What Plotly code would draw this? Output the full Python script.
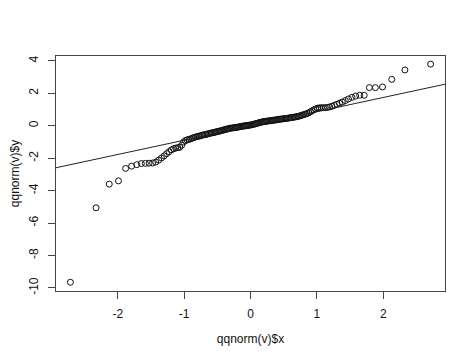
import plotly.graph_objects as go

# Theoretical quantiles (n = 150)
theoretical_left = [
    -2.713, -2.326, -2.128, -1.989, -1.881, -1.791, -1.713, -1.645, -1.584, -1.528,
    -1.476, -1.428, -1.383, -1.341, -1.301, -1.263, -1.227, -1.192, -1.159, -1.126,
    -1.095, -1.065, -1.036, -1.008, -0.980, -0.954, -0.928, -0.903, -0.878, -0.854,
    -0.830, -0.806, -0.783, -0.761, -0.739, -0.717, -0.696, -0.674, -0.654, -0.633,
    -0.613, -0.593, -0.573, -0.553, -0.534, -0.515, -0.496, -0.477, -0.458, -0.440,
    -0.421, -0.403, -0.385, -0.367, -0.349, -0.332, -0.314, -0.297, -0.279, -0.262,
    -0.245, -0.228, -0.210, -0.193, -0.176, -0.159, -0.143, -0.126, -0.109, -0.092,
    -0.075, -0.059, -0.042, -0.025, -0.008,
]
theoretical_right = [
    0.008, 0.025, 0.042, 0.059, 0.075, 0.092, 0.109, 0.126, 0.143, 0.159,
    0.176, 0.193, 0.210, 0.228, 0.245, 0.262, 0.279, 0.297, 0.314, 0.332,
    0.349, 0.367, 0.385, 0.403, 0.421, 0.440, 0.458, 0.477, 0.496, 0.515,
    0.534, 0.553, 0.573, 0.593, 0.613, 0.633, 0.654, 0.674, 0.696, 0.717,
    0.739, 0.761, 0.783, 0.806, 0.830, 0.854, 0.878, 0.903, 0.928, 0.954,
    0.980, 1.008, 1.036, 1.065, 1.095, 1.126, 1.159, 1.192, 1.227, 1.263,
    1.301, 1.341, 1.383, 1.428, 1.476, 1.528, 1.584, 1.645, 1.713, 1.791,
    1.881, 1.989, 2.128, 2.326, 2.713,
]

# Sample quantiles
sample_left = [
    -9.65, -5.06, -3.60, -3.40, -2.63, -2.49, -2.40, -2.33, -2.32, -2.31,
    -2.30, -2.24, -2.12, -1.99, -1.86, -1.72, -1.60, -1.49, -1.42, -1.38,
    -1.35, -1.33, -1.20, -1.00, -0.91, -0.87, -0.84, -0.81, -0.77, -0.73,
    -0.70, -0.67, -0.65, -0.63, -0.60, -0.57, -0.55, -0.54, -0.52, -0.49,
    -0.47, -0.45, -0.43, -0.42, -0.40, -0.37, -0.36, -0.34, -0.32, -0.30,
    -0.28, -0.26, -0.24, -0.22, -0.20, -0.18, -0.16, -0.15, -0.14, -0.13,
    -0.12, -0.11, -0.10, -0.09, -0.07, -0.06, -0.05, -0.03, -0.02, -0.01,
    0.00, 0.01, 0.02, 0.03, 0.04,
]
sample_right = [
    0.05, 0.07, 0.09, 0.10, 0.12, 0.14, 0.16, 0.18, 0.20, 0.22,
    0.23, 0.25, 0.26, 0.27, 0.28, 0.29, 0.30, 0.31, 0.32, 0.33,
    0.34, 0.35, 0.36, 0.37, 0.39, 0.40, 0.41, 0.42, 0.43, 0.44,
    0.45, 0.46, 0.47, 0.49, 0.50, 0.51, 0.53, 0.54, 0.56, 0.58,
    0.60, 0.63, 0.66, 0.69, 0.72, 0.75, 0.80, 0.86, 0.92, 0.98,
    1.04, 1.08, 1.10, 1.11, 1.11, 1.12, 1.13, 1.16, 1.20, 1.26,
    1.32, 1.39, 1.46, 1.55, 1.65, 1.75, 1.83, 1.88, 1.88, 2.35,
    2.35, 2.39, 2.86, 3.44, 3.80,
]

# Reference line (qqline) parameters
qq_intercept = -0.015
qq_slope = 0.879

x_tick_vals = [-2, -1, 0, 1, 2]
x_tick_text = ["-2", "-1", "0", "1", "2"]
y_tick_vals = [-10, -8, -6, -4, -2, 0, 2, 4]
y_tick_text = ["-10", "-8", "-6", "-4", "-2", "0", "2", "4"]

x_range = [-2.93, 2.93]
y_range = [-10.19, 4.30]

xs = theoretical_left + theoretical_right
ys = sample_left + sample_right

line_x = [-4, 4]
line_y = [qq_intercept + qq_slope * v for v in line_x]

font = "Liberation Sans, Arial, sans-serif"

fig = go.Figure()
fig.add_trace(go.Scatter(
    x=xs, y=ys, mode="markers",
    marker=dict(symbol="circle-open", size=6, color="#111111", line=dict(width=1, color="#111111")),
    showlegend=False, hoverinfo="x+y",
))
fig.add_trace(go.Scatter(
    x=line_x, y=line_y, mode="lines",
    line=dict(color="#222222", width=1),
    showlegend=False, hoverinfo="skip",
))

axis_common = dict(
    showgrid=False, zeroline=False, automargin=False,
    showline=True, mirror=True, linecolor="#444444", linewidth=1,
    ticks="outside", ticklen=7, tickcolor="#444444", tickwidth=1,
    tickfont=dict(family=font, size=12, color="#111111"),
)

fig.update_layout(
    width=466, height=353,
    margin=dict(l=48, r=29, t=48, b=70),
    paper_bgcolor="white", plot_bgcolor="white",
    font=dict(family=font, size=12, color="#111111"),
    xaxis=dict(
        range=x_range, tickmode="array", tickvals=x_tick_vals, ticktext=x_tick_text,
        title=dict(text="qqnorm(v)$x", font=dict(family=font, size=12), standoff=14),
        ticklabelstandoff=5,
        **axis_common,
    ),
    yaxis=dict(
        range=y_range, tickmode="array", tickvals=y_tick_vals, ticktext=y_tick_text,
        tickangle=-90,
        title=dict(text="qqnorm(v)$y", font=dict(family=font, size=12), standoff=8),
        ticklabelstandoff=5,
        **axis_common,
    ),
)

fig.write_html("out.html")
